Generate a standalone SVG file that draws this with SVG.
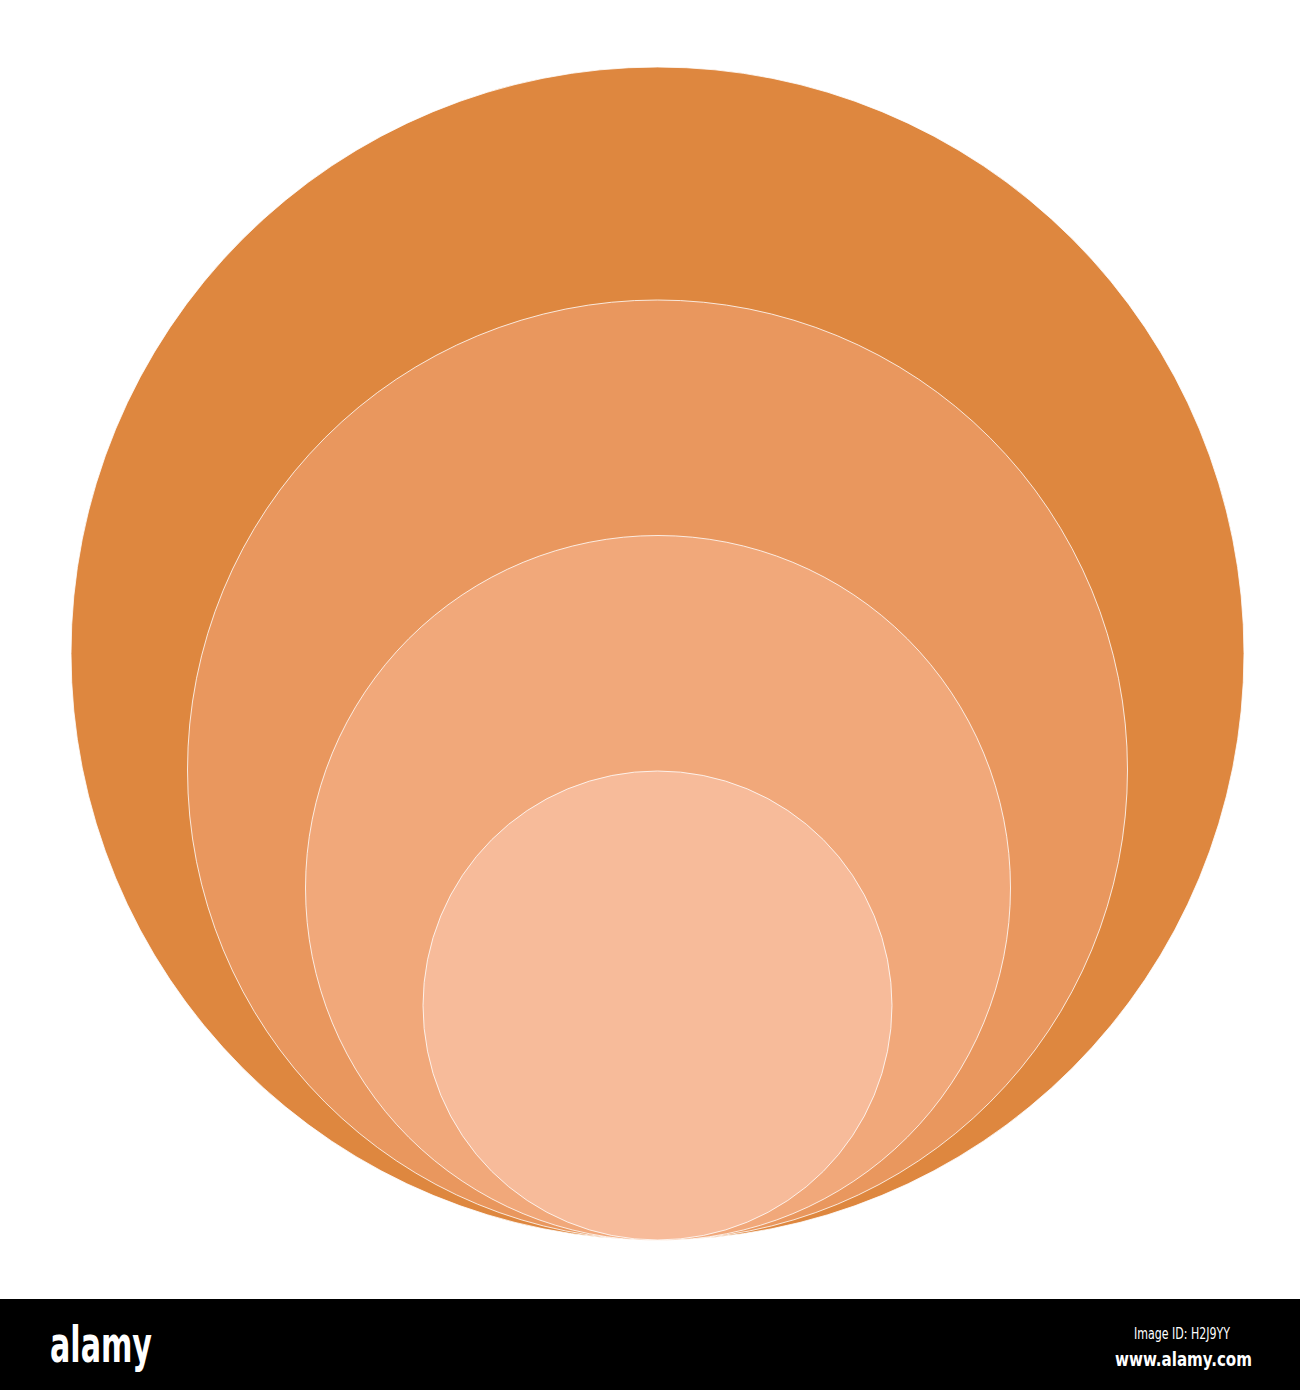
<svg xmlns="http://www.w3.org/2000/svg" width="1300" height="1390" viewBox="0 0 1300 1390">
<style>
.ring{stroke:#ffffff;stroke-width:0.8}
.bar-text{fill:#ffffff;font-family:"DejaVu Sans Condensed","DejaVu Sans","Liberation Sans",sans-serif}
</style>
<rect x="0" y="0" width="1300" height="1390" fill="#ffffff"/>
<g id="circle-1"><circle class="ring" cx="657.5" cy="653.5" r="586.5" fill="#DE873F" stroke="none"/></g>
<g id="circle-2"><circle class="ring" cx="657.5" cy="770" r="470" fill="#E9975E"/></g>
<g id="circle-3"><circle class="ring" cx="658" cy="888" r="352.5" fill="#F1A87A"/></g>
<g id="circle-4"><circle class="ring" cx="657.5" cy="1005.5" r="234.5" fill="#F7BB9A"/></g>
<g id="connectors"></g>
<g id="footer">
<rect x="0" y="1299" width="1300" height="91" fill="#000000"/>
<text class="bar-text" x="50" y="1362" font-size="50" font-weight="bold" textLength="102" lengthAdjust="spacingAndGlyphs">alamy</text>
<text class="bar-text" x="1230" y="1339" font-size="15" text-anchor="end" textLength="96" lengthAdjust="spacingAndGlyphs">Image ID: H2J9YY</text>
<text class="bar-text" x="1252" y="1366" font-size="19" font-weight="bold" text-anchor="end" textLength="137" lengthAdjust="spacingAndGlyphs">www.alamy.com</text>
</g>
</svg>
